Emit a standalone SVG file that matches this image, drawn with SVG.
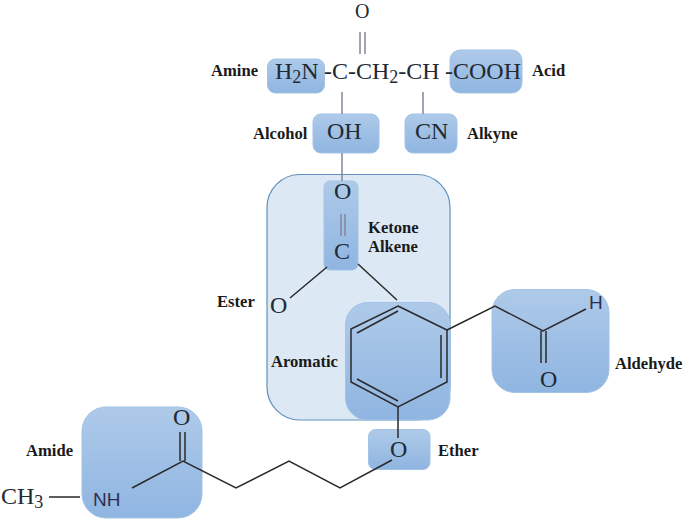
<svg xmlns="http://www.w3.org/2000/svg" width="685" height="519" viewBox="0 0 685 519">
<defs>
<linearGradient id="g" x1="0" y1="0" x2="0" y2="1"><stop offset="0" stop-color="#aecae9"/><stop offset="1" stop-color="#8fb5e1"/></linearGradient>
</defs>
<style>
.box{fill:url(#g);stroke:#a3c3e6;stroke-width:1}
.lb{font-family:"Liberation Serif",serif;font-weight:bold;font-size:16.6px;fill:#1a1a1a}
.f{font-family:"Liberation Serif",serif;font-size:24px;fill:#222a33}
.sub{font-size:18px}
.s{font-family:"Liberation Sans",sans-serif;font-size:19px;fill:#2f2f50}
.b{fill:none;stroke:#2a2a2a;stroke-width:1.5;stroke-linejoin:miter}
.g{fill:none;stroke:#85859a;stroke-width:1.5}
</style>
<rect width="685" height="519" fill="#fff"/>
<g id="ester"><rect x="267" y="174.500" width="183" height="245.500" rx="33" fill="#dde8f5" stroke="#5f92bd" stroke-width="1.200"/><text class="lb" x="217" y="307">Ester</text></g>
<g id="amine"><rect class="box" x="267.500" y="59" width="57" height="34" rx="8"/><text class="lb" x="211" y="76">Amine</text></g>
<g id="acid"><rect class="box" x="450" y="50" width="72" height="43" rx="10"/><text class="lb" x="532" y="76">Acid</text></g>
<g id="alcohol"><rect class="box" x="313" y="114" width="66" height="39" rx="8"/><text class="lb" x="253" y="139">Alcohol</text><text class="f" x="327" y="139">OH</text></g>
<g id="alkyne"><rect class="box" x="405" y="114" width="52" height="39" rx="8"/><text class="f" x="415" y="139">CN</text><text class="lb" x="467" y="139">Alkyne</text></g>
<g id="ketone"><rect class="box" x="324" y="181" width="34" height="89" rx="6"/><text class="f" x="334" y="199">O</text><text class="f" x="334" y="259">C</text><text class="lb" x="368" y="233">Ketone</text><text class="lb" x="368" y="252">Alkene</text></g>
<g id="aromatic"><rect class="box" x="345.500" y="302.500" width="104.500" height="117.500" rx="22"/><text class="lb" x="271" y="367">Aromatic</text></g>
<g id="ether"><rect class="box" x="368.500" y="429.500" width="61.500" height="40" rx="7"/><text class="f" x="390" y="457">O</text><text class="lb" x="438" y="456">Ether</text></g>
<g id="amide"><rect class="box" x="82" y="407" width="120" height="111" rx="24"/><text class="f" x="173" y="425">O</text><text class="s" x="93" y="506">NH</text><text class="lb" x="26" y="456">Amide</text></g>
<g id="aldehyde"><rect class="box" x="492" y="289.500" width="117" height="103" rx="23"/><text class="s" x="589" y="309">H</text><text class="f" x="540" y="387">O</text><text class="lb" x="615" y="369">Aldehyde</text></g>
<g id="formula">
<text class="f" style="font-size:20px" x="355" y="18">O</text>
<text class="f" x="275" y="79">H<tspan class="sub" dy="4">2</tspan><tspan dy="-4">N</tspan></text>
<text class="f" x="324" y="79">-C-CH<tspan class="sub" dy="4">2</tspan><tspan dy="-4">-CH</tspan></text>
<text class="f" x="445" y="79">-COOH</text>
<text class="f" x="1" y="504">CH<tspan class="sub" dy="4">3</tspan></text>
<text class="f" x="270" y="313">O</text>
</g>
<g id="connectors">
<path class="g" d="M360 32V54M365 32V54M342 92V114M423 92V114M342 153V181M341 214V236M345 214V236"/>
<path class="b" d="M327 267L290 298M358 264L397 300"/>
<path class="b" d="M398 306L447 330V382L398 407L351 382V329ZM357 333L398 311M441 335V378M357 379L398 401"/>
<path class="b" d="M447 330L495 306L543 331L586 309M541 331V363M546 331V363"/>
<path class="b" d="M398 407V438M392 460L340 488L289 461L236 488L183 461L132 488M180 432V461M185 432V461M49 497H80"/>
</g>
</svg>
